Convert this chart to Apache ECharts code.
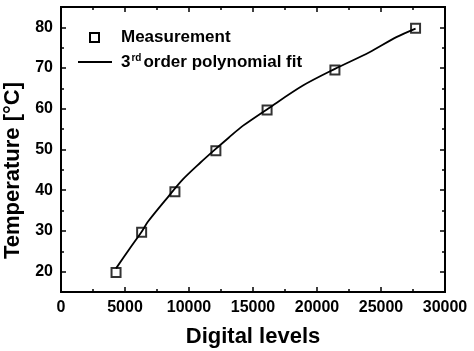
<!DOCTYPE html>
<html>
<head>
<meta charset="utf-8">
<script src="https://cdn.jsdelivr.net/npm/echarts@6/dist/echarts.min.js"></script>
<style>
html, body { margin: 0; padding: 0; background: #fff; }
#chart { width: 474px; height: 351px; }
</style>
</head>
<body>
<div id="chart"></div>
<script>
// measured points
var levels = [4300, 6300, 8900, 12100, 16100, 21400, 27700];
var temps = [19.8, 29.7, 39.6, 49.7, 59.7, 69.5, 79.8];

// fitted curve
var fitLevels = [4300, 5400, 6300, 6800, 8400, 9500, 10900, 12000, 13100, 14200, 16200, 18900, 21400, 24100, 26200, 27700];
var fitTemps = [20.8, 25.8, 29.8, 32.3, 38.5, 42.6, 46.8, 49.9, 52.9, 55.8, 60.1, 65.7, 69.8, 73.9, 77.6, 79.7];

// y ticks
var yMajor = [20, 30, 40, 50, 60, 70, 80];
var yMinor = [15, 25, 35, 45, 55, 65, 75, 85];

var font = '"Liberation Sans", Arial, sans-serif';

function pairs(xs, ys) {
    var out = [];
    for (var i = 0; i < xs.length; i++) out.push([xs[i], ys[i]]);
    return out;
}

var lineStyle = { color: '#000', width: 2 };
var tickStyle = { color: '#000', width: 1.5 };

function xAxisOf(pos, withLabels) {
    var ax = {
        type: 'value', min: 0, max: 30000, interval: 5000, position: pos,
        axisLine: { show: true, onZero: false, lineStyle: lineStyle },
        axisTick: { show: true, inside: true, length: 5, lineStyle: tickStyle },
        minorTick: { show: true, splitNumber: 2, length: 3, lineStyle: tickStyle },
        splitLine: { show: false },
        axisLabel: { show: false }
    };
    if (withLabels) {
        ax.name = 'Digital levels';
        ax.nameLocation = 'middle';
        ax.nameGap = 34;
        ax.nameTextStyle = { fontFamily: font, fontWeight: 'bold', fontSize: 22, color: '#000' };
        ax.axisLabel = {
            show: true, margin: 8, fontFamily: font, fontWeight: 'bold', fontSize: 16, color: '#000',
            formatter: function (v) { return String(v); }
        };
    }
    return ax;
}

function yAxisOf(pos, ticks, len, withLabels) {
    var ax = {
        type: 'value', min: 15, max: 85, position: pos,
        axisLine: { show: true, onZero: false, lineStyle: lineStyle },
        axisTick: { show: true, inside: true, length: len, lineStyle: tickStyle, customValues: ticks },
        splitLine: { show: false },
        axisLabel: { show: false }
    };
    if (withLabels) {
        ax.name = 'Temperature [°C]';
        ax.nameLocation = 'middle';
        ax.nameGap = 35;
        ax.nameTextStyle = { fontFamily: font, fontWeight: 'bold', fontSize: 22, color: '#000', padding: [0, 42, 0, 0] };
        ax.axisLabel = {
            show: true, margin: 8, fontFamily: font, fontWeight: 'bold', fontSize: 16, color: '#000',
            customValues: ticks
        };
    }
    return ax;
}

var myChart = echarts.init(document.getElementById('chart'));
var option = {
    animation: false,
    grid: { left: 61, right: 29, top: 7, bottom: 59, outerBoundsMode: 'none' },
    graphic: [
        { type: 'rect', shape: { x: 90, y: 33, width: 9, height: 9 },
          style: { fill: '#fff', stroke: '#000', lineWidth: 2 } },
        { type: 'text', x: 121, y: 37,
          style: { text: 'Measurement', font: 'bold 17px ' + font, fill: '#000', verticalAlign: 'middle' } },
        { type: 'line', shape: { x1: 78, y1: 62, x2: 112, y2: 62 },
          style: { stroke: '#000', lineWidth: 1.8 } },
        { type: 'text', x: 121, y: 62,
          style: {
              text: '{n|3}{s|rd}{n|order polynomial fit}', verticalAlign: 'middle', fill: '#000',
              rich: {
                  n: { font: 'bold 17px ' + font, fill: '#000' },
                  s: { font: 'bold 10px ' + font, fill: '#000', verticalAlign: 'top', padding: [0, 2, 8, 1] }
              }
          } }
    ],
    xAxis: [xAxisOf('bottom', true), xAxisOf('top', false)],
    yAxis: [
        yAxisOf('left', yMajor, 5, true),
        yAxisOf('left', yMinor, 3, false),
        yAxisOf('right', yMajor, 5, false),
        yAxisOf('right', yMinor, 3, false)
    ],
    series: [
        {
            name: 'fit',
            type: 'line',
            data: pairs(fitLevels, fitTemps),
            smooth: 0.3,
            showSymbol: false,
            symbol: 'none',
            lineStyle: { color: '#000', width: 1.8 },
            z: 2
        },
        {
            name: 'Measurement',
            type: 'scatter',
            data: pairs(levels, temps),
            symbol: 'rect',
            symbolSize: 9,
            itemStyle: { color: 'rgba(255,255,255,0)', borderColor: '#000', borderWidth: 2 },
            z: 3
        }
    ]
};
myChart.setOption(option);
</script>
</body>
</html>
